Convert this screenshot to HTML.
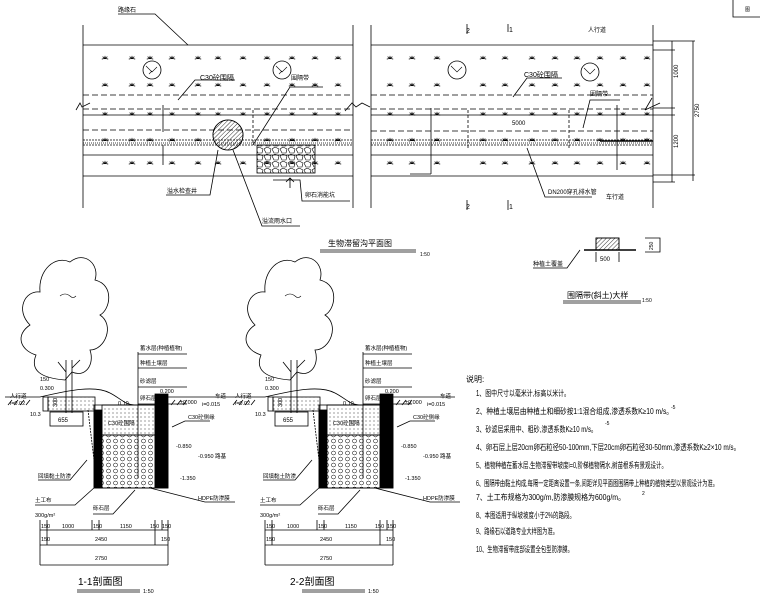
<!DOCTYPE html>
<html><head><meta charset="utf-8"><style>
html,body{margin:0;padding:0;background:#fff;}
svg{display:block;font-family:"Liberation Sans","Noto Sans CJK SC",sans-serif;}
text{fill:#000;}
</style></head><body>
<svg id="s" width="760" height="599" viewBox="0 0 760 599" xmlns="http://www.w3.org/2000/svg" stroke="#000" fill="none" stroke-width="0.8">
<defs>
<symbol id="pl" viewBox="-5 -4 10 6" overflow="visible"><path d="M-4 1 L0 0 L4 1 M-3 -2 L0 0 L3 -2 M0 -3 L0 0" stroke-width="0.9"/><ellipse cx="0" cy="0" rx="1.5" ry="1" fill="#000" stroke="none"/></symbol>
<pattern id="dots" width="4" height="4" patternUnits="userSpaceOnUse"><circle cx="1" cy="1" r="0.5" fill="#000" stroke="none"/></pattern>
<pattern id="circ" width="7" height="6" patternUnits="userSpaceOnUse"><circle cx="3.5" cy="3" r="2" stroke-width="0.5"/></pattern>
<pattern id="hat" width="3" height="3" patternUnits="userSpaceOnUse" patternTransform="rotate(45)"><line x1="0" y1="0" x2="0" y2="3" stroke-width="0.8"/></pattern>
<pattern id="grav" width="8" height="7" patternUnits="userSpaceOnUse"><path d="M0 2 L3 0 L7 2 L6 6 L2 6 Z" stroke-width="0.6"/></pattern>
</defs>

<path d="M733 0 V17 H760"/><text x="745" y="11" font-size="5" stroke="none">图</text>

<g id="planL">
<line x1="83" y1="25" x2="83" y2="208"/><line x1="353" y1="25" x2="353" y2="208"/>
<line x1="83" y1="45" x2="353" y2="45"/>
<line x1="83" y1="95" x2="353" y2="95" stroke-dasharray="6,3"/>
<line x1="83" y1="109" x2="353" y2="109" stroke-dasharray="6,3"/>
<line x1="83" y1="115" x2="353" y2="115"/>
<line x1="83" y1="130" x2="353" y2="130" stroke-dasharray="6,3"/>
<line x1="83" y1="140" x2="353" y2="140" stroke-dasharray="2,1"/>
<line x1="83" y1="143" x2="353" y2="143" stroke-dasharray="1,1"/>
<line x1="83" y1="145" x2="353" y2="145" stroke-dasharray="2,1"/>
<line x1="83" y1="155" x2="353" y2="155"/>
<line x1="83" y1="176" x2="353" y2="176"/>
<path d="M76 110 L80 103 L82 107 L90 103"/>
<path d="M345 111 L352 103 L356 107 L362 103 L370 107"/>
<line x1="163" y1="105" x2="163" y2="132"/><line x1="163" y1="145" x2="163" y2="165"/>
<line x1="253" y1="110" x2="253" y2="145" stroke-dasharray="3,2"/>
<circle cx="152" cy="70" r="9"/><path d="M146 66 l6 6 l5 -5 M149 74 l3 -3" stroke-width="0.6"/>
<circle cx="282" cy="70" r="9"/><path d="M276 66 l6 6 l5 -5 M279 74 l3 -3" stroke-width="0.6"/>
<circle cx="228" cy="135" r="15" fill="url(#hat)"/><circle cx="228" cy="135" r="15"/>
<rect x="257" y="145" width="58" height="28" fill="url(#grav)"/>
<path d="M290 188 V178 M286 182 L290 178 L294 182"/>
<path d="M118 14 H155 L188 45"/>
<path d="M178 100 L195 80 H235"/><text x="200" y="80" font-size="7" stroke="none">C30砼围隔</text>
<path d="M253 145 L290 87 H323"/><text x="291" y="80" font-size="6" stroke="none">围隔带</text>
<path d="M218 150 L210 195 H166"/><text x="167" y="193" font-size="6" stroke="none">溢水检查井</text>
<path d="M233 150 L262 226 H300"/><text x="262" y="223" font-size="6" stroke="none">溢流雨水口</text>
<path d="M273 180 H300 L302 201 H350"/><text x="305" y="197" font-size="6" stroke="none">卵石消能坑</text>
<text x="118" y="12" font-size="6" stroke="none">路缘石</text>
</g>

<line x1="371" y1="25" x2="371" y2="208"/><line x1="653" y1="25" x2="653" y2="208"/>
<line x1="371" y1="45" x2="653" y2="45"/>
<line x1="371" y1="95" x2="653" y2="95" stroke-dasharray="6,3"/>
<line x1="371" y1="109" x2="653" y2="109" stroke-dasharray="6,3"/>
<line x1="371" y1="115" x2="653" y2="115"/>
<line x1="371" y1="131" x2="653" y2="131" stroke-dasharray="6,3"/>
<line x1="371" y1="140" x2="653" y2="140" stroke-dasharray="2,1"/>
<line x1="371" y1="143" x2="653" y2="143" stroke-dasharray="1,1"/>
<line x1="371" y1="145" x2="653" y2="145" stroke-dasharray="2,1"/>
<line x1="600" y1="141" x2="653" y2="141" stroke-width="1.5"/>
<line x1="371" y1="155" x2="653" y2="155"/>
<line x1="371" y1="176" x2="653" y2="176"/>
<path d="M645 110 L652 98 M645 110 L660 103"/>
<line x1="431" y1="108" x2="431" y2="174"/><line x1="410" y1="174" x2="431" y2="174"/>
<line x1="468" y1="110" x2="468" y2="150" stroke-dasharray="3,2"/><line x1="569" y1="110" x2="569" y2="150" stroke-dasharray="3,2"/>
<text x="512" y="125" font-size="6" stroke="none">5000</text>
<line x1="617" y1="105" x2="617" y2="170"/>
<circle cx="457" cy="70" r="9"/><path d="M451 66 l6 6 l5 -5" stroke-width="0.6"/>
<circle cx="590" cy="72" r="9"/><path d="M584 68 l6 6 l5 -5" stroke-width="0.6"/>
<path d="M513 97 L527 78 H562"/><text x="524" y="77" font-size="7" stroke="none">C30砼围隔</text>
<path d="M583 128 L590 100 H620"/><text x="590" y="96" font-size="6" stroke="none">围隔带</text>
<path d="M527 148 L545 197 H592"/><text x="548" y="194" font-size="6" stroke="none">DN200穿孔排水管</text>
<text x="606" y="199" font-size="6" stroke="none">车行道</text>
<text x="588" y="32" font-size="6" stroke="none">人行道</text>
<text x="466" y="33" font-size="7" stroke="none">2</text><path d="M467 24 V34"/>
<text x="509" y="32" font-size="7" stroke="none">1</text><path d="M508 24 V32"/>
<text x="466" y="209" font-size="7" stroke="none">2</text><path d="M467 200 V210"/>
<text x="509" y="209" font-size="7" stroke="none">1</text><path d="M508 200 V210"/>
<path d="M653 41 H695 M653 50 H675 M653 108 H675 M653 115 H675 M653 175 H695 M653 182 H675 M672 41 V182 M693 41 V181"/>
<text x="678" y="78" font-size="6" stroke="none" transform="rotate(-90 678 78)">1000</text>
<text x="678" y="148" font-size="6" stroke="none" transform="rotate(-90 678 148)">1200</text>
<text x="699" y="117" font-size="6" stroke="none" transform="rotate(-90 699 117)">2750</text>

<text x="328" y="246" font-size="8" stroke="none">生物滞留沟平面图</text>
<line x1="320" y1="250" x2="416" y2="250"/><line x1="320" y1="252" x2="416" y2="252"/>
<text x="420" y="256" font-size="5" stroke="none">1:50</text>

<rect x="596" y="238" width="23" height="12" fill="url(#hat)"/><rect x="596" y="238" width="23" height="12"/>
<line x1="584" y1="250" x2="636" y2="250" stroke-width="1.6"/>
<path d="M596 252 V262 M619 252 V262"/><text x="600" y="261" font-size="6" stroke="none">500</text>
<path d="M645 238 H660 V252 H645"/><text x="653" y="250" font-size="5" stroke="none" transform="rotate(-90 653 250)">250</text>
<path d="M580 250 L567 268 H533"/><text x="533" y="266" font-size="6" stroke="none">种植土覆盖</text>
<text x="567" y="298" font-size="8" stroke="none">围隔带(斜土)大样</text>
<line x1="563" y1="301" x2="641" y2="301"/><line x1="563" y1="303" x2="641" y2="303"/>
<text x="642" y="302" font-size="5" stroke="none">1:50</text>

<g id="sec">
<path d="M65 380 C40 378 30 370 36 355 C20 350 15 335 30 325 C15 310 25 290 40 292 C38 270 55 255 70 262 C85 250 100 265 95 280 C115 285 110 310 100 315 C115 325 105 350 90 350 C95 365 85 378 72 372 Z"/>
<path d="M66 413 V360 M72 413 V360 M66 372 L58 362 M72 368 L80 360"/>
<path d="M60 296 q5 -4 10 0 q3 3 6 0" stroke-width="0.6"/>
<path d="M5 397 H40 M40 397 C70 390 95 385 110 393 C120 398 125 405 135 405 H156"/>
<path d="M12 400 l-4 5 M18 400 l-4 5 M24 400 l-4 5 M30 400 l-4 5"/>
<rect x="43" y="397" width="5" height="14"/>
<rect x="48" y="397" width="47" height="14" fill="url(#dots)"/>
<rect x="50" y="412" width="33" height="14"/><text x="58" y="422" font-size="6" stroke="none">655</text>
<path d="M88 410 L97 485" stroke-dasharray="2,1"/>
<rect x="94" y="410" width="8" height="78" fill="#000"/>
<rect x="155" y="394" width="13" height="94" fill="#000"/>
<rect x="102" y="405" width="53" height="30" fill="url(#dots)"/>
<rect x="102" y="435" width="53" height="53" fill="url(#circ)"/>
<line x1="102" y1="435" x2="155" y2="435"/><line x1="102" y1="405" x2="155" y2="405"/>
<rect x="94" y="405" width="74" height="83"/>
<path d="M168 397 H230 M175 400 l-4 5 M181 400 l-4 5 M187 400 l-4 5"/>
<path d="M138 352 V478 M138 354 H187 M138 368 H187 M138 387 H187 M138 404 H187"/>
<text x="140" y="350" font-size="5.5" stroke="none">蓄水层(种植植物)</text>
<text x="140" y="365" font-size="5.5" stroke="none">种植土壤层</text>
<text x="140" y="383" font-size="5.5" stroke="none">砂滤层</text>
<text x="140" y="400" font-size="5.5" stroke="none">卵石层</text>
<text x="10" y="398" font-size="5.5" stroke="none">人行道</text>
<text x="10" y="405" font-size="5.5" stroke="none">i=0.02</text>
<text x="40" y="390" font-size="5.5" stroke="none">0.300</text>
<text x="40" y="381" font-size="5.5" stroke="none">150</text>
<text x="30" y="416" font-size="5.5" stroke="none">10.3</text>
<text x="57" y="407" font-size="5.5" stroke="none" transform="rotate(-90 57 407)">300</text>
<text x="118" y="405" font-size="5.5" stroke="none">0.10</text>
<text x="160" y="393" font-size="5.5" stroke="none">0.200</text>
<text x="180" y="404" font-size="5.5" stroke="none">±0.000</text>
<text x="202" y="406" font-size="5.5" stroke="none">i=0.015</text>
<text x="215" y="398" font-size="5.5" stroke="none">车道</text>
<text x="108" y="425" font-size="5.5" stroke="none">C30砼围隔</text>
<path d="M172 427 L185 421 H210"/><text x="188" y="419" font-size="5.5" stroke="none">C30砼侧缘</text>
<text x="176" y="448" font-size="5.5" stroke="none">-0.850</text>
<text x="198" y="458" font-size="5.5" stroke="none">-0.950 路基</text>
<text x="180" y="480" font-size="5.5" stroke="none">-1.350</text>
<path d="M87 460 L70 480 H38"/><text x="38" y="478" font-size="5.5" stroke="none">回填黏土防渗</text>
<path d="M95 487 L75 505 H35"/><text x="35" y="502" font-size="5.5" stroke="none">土工布</text>
<path d="M135 490 L113 514 H93"/><text x="93" y="510" font-size="5.5" stroke="none">砾石层</text>
<path d="M150 488 L205 502 H235"/><text x="198" y="500" font-size="5.5" stroke="none">HDPE防渗膜</text>
<text x="35" y="517" font-size="5.5" stroke="none">300g/m²</text>
<path d="M40 520 V565 M47 520 V545 M92 520 V530 M99 520 V530 M155 520 V545 M162 520 V530 M168 520 V565"/>
<path d="M40 530 H168 M40 545 H168 M40 565 H168"/>
<text x="41" y="528" font-size="5.5" stroke="none">150</text><text x="62" y="528" font-size="5.5" stroke="none">1000</text>
<text x="93" y="528" font-size="5.5" stroke="none">150</text><text x="120" y="528" font-size="5.5" stroke="none">1150</text>
<text x="150" y="528" font-size="5.5" stroke="none">150</text><text x="162" y="528" font-size="5.5" stroke="none">150</text>
<text x="41" y="541" font-size="5.5" stroke="none">150</text><text x="95" y="541" font-size="5.5" stroke="none">2450</text><text x="161" y="541" font-size="5.5" stroke="none">150</text>
<text x="95" y="560" font-size="5.5" stroke="none">2750</text>
<line x1="77" y1="590" x2="140" y2="590"/><line x1="77" y1="592" x2="140" y2="592"/>
<text x="143" y="593" font-size="5.5" stroke="none">1:50</text>
</g>
<text x="78" y="585" font-size="10" stroke="none">1-1剖面图</text>
<use href="#sec" x="225" y="0"/>
<text x="290" y="585" font-size="10" stroke="none">2-2剖面图</text>

<g font-size="8" stroke="none">
<text x="466" y="382">说明:</text>
<text x="476" y="396" textLength="94" lengthAdjust="spacingAndGlyphs">1、图中尺寸以毫米计,标高以米计。</text>
<text x="476" y="414" textLength="197" lengthAdjust="spacingAndGlyphs">2、种植土壤层由种植土和细砂按1:1混合组成,渗透系数K≥10   m/s。</text>
<text x="476" y="432" textLength="121" lengthAdjust="spacingAndGlyphs">3、砂滤层采用中、粗砂,渗透系数K≥10   m/s。</text>
<text x="476" y="450" textLength="264" lengthAdjust="spacingAndGlyphs">4、卵石层上层20cm卵石粒径50-100mm,下层20cm卵石粒径30-50mm,渗透系数K≥2×10    m/s。</text>
<text x="476" y="468" textLength="191" lengthAdjust="spacingAndGlyphs">5、植物种植在蓄水层,生物滞留带坡度i=0,阶梯植物隔水,树苗根系有景观设计。</text>
<text x="476" y="486" textLength="242" lengthAdjust="spacingAndGlyphs">6、围隔带由黏土构成,每隔一定距离设置一条,间距详见平面图围隔带上种植的植物类型以景观设计为准。</text>
<text x="476" y="500" textLength="149" lengthAdjust="spacingAndGlyphs">7、土工布规格为300g/m,防渗膜规格为600g/m。</text>
<text x="476" y="518" textLength="99" lengthAdjust="spacingAndGlyphs">8、本图适用于纵坡坡度小于2%的路段。</text>
<text x="476" y="534" textLength="82" lengthAdjust="spacingAndGlyphs">9、路缘石以道路专业大样图为准。</text>
<text x="476" y="552" textLength="97" lengthAdjust="spacingAndGlyphs">10、生物滞留带底部设置全包型防渗膜。</text>
<text x="671" y="409" font-size="5">-5</text><text x="605" y="425" font-size="5">-5</text><text x="642" y="495" font-size="5">2</text>
</g>
<g id="plants"></g>
<script>
var g=document.getElementById('plants'),ns='http://www.w3.org/2000/svg';
var xl=[105,132,150,172,198,218,243,267,292,315,338],xr=[390,412,437,483,505,532,555,577,600,623,647];
var rows=[58,85,114,140,163];
function add(x,y){var u=document.createElementNS(ns,'use');u.setAttribute('href','#pl');u.setAttribute('x',x-4);u.setAttribute('y',y-3);u.setAttribute('width',8);u.setAttribute('height',5);g.appendChild(u);}
rows.forEach(function(y){xl.forEach(function(x){if(!(y==140&&x>210&&x<245))add(x,y);});xr.forEach(function(x){add(x,y);});});
</script>
</svg>
</body></html>
